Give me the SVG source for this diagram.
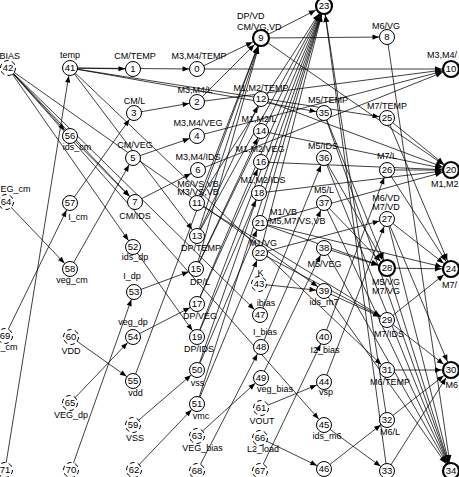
<svg xmlns="http://www.w3.org/2000/svg" width="459" height="477" viewBox="0 0 459 477">
<style>
.e line{stroke:#000;stroke-width:0.75;fill:none;marker-end:url(#a)}
.e line.b{marker-end:url(#b)}
.n circle{fill:#fff;stroke:#000;stroke-width:1}
.n.b circle{stroke-width:2.2}
.n.d circle{stroke-dasharray:4.5,3.3}
text{font-family:"Liberation Sans",Arial,sans-serif;font-size:9px;fill:#000;text-anchor:middle}
text.k{font-size:9.5px}
text.s{text-anchor:start}
text.r{text-anchor:end}
</style>
<defs>
<marker id="a" markerUnits="userSpaceOnUse" orient="auto" markerWidth="20" markerHeight="10" viewBox="-20 -5 20 10" refX="0" refY="0" overflow="visible"><path d="M-8,0L-14.5,-2.6L-14.5,2.6z" fill="#000"/></marker>
<marker id="b" markerUnits="userSpaceOnUse" orient="auto" markerWidth="20" markerHeight="10" viewBox="-20 -5 20 10" refX="0" refY="0" overflow="visible"><path d="M-9.5,0L-16,-2.8L-16,2.8z" fill="#000"/></marker>
</defs>
<rect width="459" height="477" fill="#fff"/>
<g id="connectors" class="e">
<line x1="5" y1="470" x2="70" y2="68"/>
<line x1="5" y1="336" x2="70" y2="203"/>
<line x1="6" y1="202" x2="70" y2="269"/>
<line x1="71" y1="337" x2="133" y2="381"/>
<line x1="70" y1="403" x2="133" y2="337"/>
<line x1="133" y1="425" x2="197" y2="370"/>
<line x1="134" y1="470" x2="197" y2="404"/>
<line x1="197" y1="436" x2="261" y2="378"/>
<line x1="197" y1="471" x2="261" y2="347"/>
<line x1="260" y1="471" x2="324" y2="337"/>
<line x1="71" y1="470" x2="134" y2="292"/>
<line x1="261" y1="408" x2="324" y2="382"/>
<line x1="260" y1="438" x2="324" y2="469"/>
<line x1="259" y1="284" x2="324" y2="291"/>
<line x1="8" y1="68" x2="70" y2="136"/>
<line x1="8" y1="68" x2="135" y2="202"/>
<line x1="70" y1="136" x2="135" y2="202"/>
<line x1="8" y1="68" x2="133" y2="247"/>
<line x1="8" y1="68" x2="260" y2="315"/>
<line x1="8" y1="68" x2="324" y2="425"/>
<line x1="8" y1="68" x2="324" y2="291"/>
<line x1="70" y1="68" x2="133" y2="69"/>
<line x1="70" y1="68" x2="197" y2="69"/>
<line x1="70" y1="68" x2="197" y2="236"/>
<line x1="70" y1="68" x2="324" y2="113"/>
<line x1="70" y1="68" x2="387" y2="118"/>
<line x1="70" y1="68" x2="387" y2="370"/>
<line x1="70" y1="203" x2="134" y2="113"/>
<line x1="70" y1="269" x2="133" y2="158"/>
<line x1="134" y1="292" x2="196" y2="269"/>
<line x1="133" y1="337" x2="197" y2="304"/>
<line x1="133" y1="247" x2="197" y2="337"/>
<line x1="260" y1="315" x2="324" y2="158"/>
<line x1="261" y1="347" x2="324" y2="203"/>
<line x1="261" y1="378" x2="324" y2="248"/>
<line x1="324" y1="337" x2="387" y2="170"/>
<line x1="324" y1="382" x2="387" y2="219"/>
<line x1="324" y1="291" x2="387" y2="320"/>
<line x1="324" y1="425" x2="387" y2="471"/>
<line x1="324" y1="469" x2="387" y2="420"/>
<line x1="134" y1="113" x2="197" y2="102"/>
<line x1="133" y1="158" x2="197" y2="136"/>
<line x1="135" y1="202" x2="198" y2="170"/>
<line x1="197" y1="236" x2="261" y2="99"/>
<line x1="196" y1="269" x2="261" y2="131"/>
<line x1="197" y1="304" x2="261" y2="162"/>
<line x1="197" y1="337" x2="259" y2="193"/>
<line class="b" x1="197" y1="69" x2="451" y2="69"/>
<line class="b" x1="197" y1="102" x2="451" y2="69"/>
<line class="b" x1="197" y1="136" x2="451" y2="69"/>
<line class="b" x1="198" y1="170" x2="451" y2="69"/>
<line class="b" x1="261" y1="99" x2="451" y2="170"/>
<line class="b" x1="261" y1="131" x2="451" y2="170"/>
<line class="b" x1="261" y1="162" x2="451" y2="170"/>
<line class="b" x1="259" y1="193" x2="451" y2="170"/>
<line class="b" x1="260" y1="223" x2="451" y2="170"/>
<line class="b" x1="387" y1="118" x2="451" y2="170"/>
<line class="b" x1="387" y1="170" x2="451" y2="170"/>
<line class="b" x1="324" y1="113" x2="387" y2="268"/>
<line class="b" x1="324" y1="158" x2="387" y2="268"/>
<line class="b" x1="324" y1="203" x2="387" y2="268"/>
<line class="b" x1="324" y1="248" x2="387" y2="268"/>
<line class="b" x1="260" y1="223" x2="387" y2="268"/>
<line class="b" x1="387" y1="118" x2="451" y2="269"/>
<line class="b" x1="387" y1="170" x2="451" y2="269"/>
<line class="b" x1="387" y1="219" x2="451" y2="269"/>
<line class="b" x1="387" y1="268" x2="451" y2="269"/>
<line class="b" x1="387" y1="320" x2="451" y2="269"/>
<line class="b" x1="260" y1="223" x2="451" y2="269"/>
<line class="b" x1="387" y1="370" x2="451" y2="370"/>
<line class="b" x1="387" y1="420" x2="451" y2="370"/>
<line class="b" x1="387" y1="471" x2="451" y2="370"/>
<line class="b" x1="387" y1="320" x2="451" y2="370"/>
<line class="b" x1="387" y1="219" x2="451" y2="370"/>
<line class="b" x1="197" y1="69" x2="261" y2="38"/>
<line class="b" x1="197" y1="102" x2="261" y2="38"/>
<line class="b" x1="133" y1="381" x2="261" y2="38"/>
<line class="b" x1="197" y1="203" x2="261" y2="38"/>
<line class="b" x1="197" y1="236" x2="261" y2="38"/>
<line class="b" x1="196" y1="269" x2="261" y2="38"/>
<line class="b" x1="261" y1="38" x2="324" y2="6"/>
<line class="b" x1="197" y1="203" x2="324" y2="6"/>
<line class="b" x1="197" y1="236" x2="324" y2="6"/>
<line class="b" x1="196" y1="269" x2="324" y2="6"/>
<line class="b" x1="197" y1="304" x2="324" y2="6"/>
<line class="b" x1="197" y1="337" x2="324" y2="6"/>
<line class="b" x1="260" y1="223" x2="324" y2="6"/>
<line class="b" x1="260" y1="253" x2="324" y2="6"/>
<line class="b" x1="197" y1="370" x2="324" y2="6"/>
<line class="b" x1="197" y1="404" x2="324" y2="6"/>
<line class="b" x1="387" y1="420" x2="324" y2="6"/>
<line class="b" x1="387" y1="471" x2="324" y2="6"/>
<line x1="261" y1="38" x2="387" y2="37"/>
<line class="b" x1="387" y1="37" x2="451" y2="471"/>
<line class="b" x1="261" y1="38" x2="451" y2="170"/>
<line x1="197" y1="370" x2="260" y2="223"/>
<line x1="197" y1="404" x2="260" y2="253"/>
<line x1="260" y1="253" x2="387" y2="219"/>
<line x1="260" y1="253" x2="387" y2="320"/>
<line x1="197" y1="203" x2="387" y2="320"/>
<line class="b" x1="324" y1="113" x2="451" y2="471"/>
<line class="b" x1="324" y1="158" x2="451" y2="471"/>
<line class="b" x1="324" y1="203" x2="451" y2="471"/>
<line class="b" x1="324" y1="248" x2="451" y2="471"/>
<line class="b" x1="387" y1="219" x2="451" y2="471"/>
<line class="b" x1="387" y1="268" x2="451" y2="471"/>
<line class="b" x1="324" y1="291" x2="451" y2="471"/>
</g>
<g id="n0" class="n"><circle cx="197" cy="69" r="7.5"/><text class="k" x="197" y="72.4">0</text><text x="199" y="59">M3,M4/TEMP</text></g>
<g id="n1" class="n"><circle cx="133" cy="69" r="7.5"/><text class="k" x="133" y="72.4">1</text><text x="135" y="59">CM/TEMP</text></g>
<g id="n2" class="n"><circle cx="197" cy="102" r="7.5"/><text class="k" x="197" y="105.4">2</text><text x="195" y="92.5">M3,M4/L</text></g>
<g id="n3" class="n"><circle cx="134" cy="113" r="7.5"/><text class="k" x="134" y="116.4">3</text><text x="134.5" y="104">CM/L</text></g>
<g id="n4" class="n"><circle cx="197" cy="136" r="7.5"/><text class="k" x="197" y="139.4">4</text><text x="198" y="126">M3,M4/VEG</text></g>
<g id="n5" class="n"><circle cx="133" cy="158" r="7.5"/><text class="k" x="133" y="161.4">5</text><text x="135" y="148">CM/VEG</text></g>
<g id="n6" class="n"><circle cx="198" cy="170" r="7.5"/><text class="k" x="198" y="173.4">6</text><text x="198" y="160">M3,M4/IDS</text></g>
<g id="n7" class="n"><circle cx="135" cy="202" r="7.5"/><text class="k" x="135" y="205.4">7</text><text x="135" y="219">CM/IDS</text></g>
<g id="n8" class="n"><circle cx="387" cy="37" r="7.5"/><text class="k" x="387" y="40.4">8</text><text x="386" y="29">M6/VG</text></g>
<g id="n9" class="n b"><circle cx="261" cy="38" r="8"/><text class="k" x="261" y="41.4">9</text><text class="s" x="237" y="18.5">DP/VD</text><text class="s" x="237" y="29.5">CM/VG,VD</text></g>
<g id="n10" class="n b"><circle cx="451" cy="69" r="8"/><text class="k" x="451" y="72.4">10</text><text class="s" x="427" y="58">M3,M4/</text></g>
<g id="n11" class="n"><circle cx="197" cy="203" r="7.5"/><text class="k" x="197" y="206.4">11</text><text x="198" y="186.5">M6/VS,VB</text><text x="198" y="195">M3/VS,VB</text></g>
<g id="n12" class="n"><circle cx="261" cy="99" r="7.5"/><text class="k" x="261" y="102.4">12</text><text x="261" y="91">M1,M2/TEMP</text></g>
<g id="n13" class="n"><circle cx="197" cy="236" r="7.5"/><text class="k" x="197" y="239.4">13</text><text x="201" y="250.5">DP/TEMP</text></g>
<g id="n14" class="n"><circle cx="261" cy="131" r="7.5"/><text class="k" x="261" y="134.4">14</text><text x="259" y="122">M1,M2/L</text></g>
<g id="n15" class="n"><circle cx="196" cy="269" r="7.5"/><text class="k" x="196" y="272.4">15</text><text x="200" y="285">DP/L</text></g>
<g id="n16" class="n"><circle cx="261" cy="162" r="7.5"/><text class="k" x="261" y="165.4">16</text><text x="260" y="152">M1,M2/VEG</text></g>
<g id="n17" class="n"><circle cx="197" cy="304" r="7.5"/><text class="k" x="197" y="307.4">17</text><text x="200" y="319">DP/VEG</text></g>
<g id="n18" class="n"><circle cx="259" cy="193" r="7.5"/><text class="k" x="259" y="196.4">18</text><text x="263" y="182.5">M1,M2/IDS</text></g>
<g id="n19" class="n"><circle cx="197" cy="337" r="7.5"/><text class="k" x="197" y="340.4">19</text><text x="199" y="352">DP/IDS</text></g>
<g id="n20" class="n b"><circle cx="451" cy="170" r="8"/><text class="k" x="451" y="173.4">20</text><text class="s" x="431" y="187">M1,M2</text></g>
<g id="n21" class="n"><circle cx="260" cy="223" r="7.5"/><text class="k" x="260" y="226.4">21</text><text class="s" x="270" y="215">M1/VB</text><text class="s" x="269" y="224">M5,M7/VS,VB</text></g>
<g id="n22" class="n"><circle cx="260" cy="253" r="7.5"/><text class="k" x="260" y="256.4">22</text><text x="263" y="246">M1/VG</text></g>
<g id="n23" class="n b"><circle cx="324" cy="6" r="8"/><text class="k" x="324" y="9.4">23</text></g>
<g id="n24" class="n b"><circle cx="451" cy="269" r="8"/><text class="k" x="451" y="272.4">24</text><text class="s" x="442" y="288">M7/</text></g>
<g id="n25" class="n"><circle cx="387" cy="118" r="7.5"/><text class="k" x="387" y="121.4">25</text><text x="387" y="109">M7/TEMP</text></g>
<g id="n26" class="n"><circle cx="387" cy="170" r="7.5"/><text class="k" x="387" y="173.4">26</text><text x="387" y="159">M7/L</text></g>
<g id="n27" class="n"><circle cx="387" cy="219" r="7.5"/><text class="k" x="387" y="222.4">27</text><text x="386" y="200.5">M6/VD</text><text x="386" y="210">M7/VD</text></g>
<g id="n28" class="n b"><circle cx="387" cy="268" r="8"/><text class="k" x="387" y="271.4">28</text><text x="386" y="285">M5/VG</text><text x="386" y="293.5">M7/VG</text></g>
<g id="n29" class="n"><circle cx="387" cy="320" r="7.5"/><text class="k" x="387" y="323.4">29</text><text x="389" y="336.5">M7/IDS</text></g>
<g id="n30" class="n b"><circle cx="451" cy="370" r="8"/><text class="k" x="451" y="373.4">30</text><text class="r" x="458" y="388">M6</text></g>
<g id="n31" class="n"><circle cx="387" cy="370" r="7.5"/><text class="k" x="387" y="373.4">31</text><text x="390" y="385">M6/TEMP</text></g>
<g id="n32" class="n"><circle cx="387" cy="420" r="7.5"/><text class="k" x="387" y="423.4">32</text><text x="390" y="435">M6/L</text></g>
<g id="n33" class="n"><circle cx="387" cy="471" r="7.5"/><text class="k" x="387" y="474.4">33</text></g>
<g id="n34" class="n b"><circle cx="451" cy="471" r="8"/><text class="k" x="451" y="474.4">34</text></g>
<g id="n35" class="n"><circle cx="324" cy="113" r="7.5"/><text class="k" x="324" y="116.4">35</text><text x="328" y="103">M5/TEMP</text></g>
<g id="n36" class="n"><circle cx="324" cy="158" r="7.5"/><text class="k" x="324" y="161.4">36</text><text x="323" y="149">M5/IDS</text></g>
<g id="n37" class="n"><circle cx="324" cy="203" r="7.5"/><text class="k" x="324" y="206.4">37</text><text x="324" y="193">M5/L</text></g>
<g id="n38" class="n"><circle cx="324" cy="248" r="7.5"/><text class="k" x="324" y="251.4">38</text><text x="324.5" y="267">M5/VEG</text></g>
<g id="n39" class="n"><circle cx="324" cy="291" r="7.5"/><text class="k" x="324" y="294.4">39</text><text x="324" y="304.5">ids_m7</text></g>
<g id="n40" class="n"><circle cx="324" cy="337" r="7.5"/><text class="k" x="324" y="340.4">40</text><text x="325" y="353">I2_bias</text></g>
<g id="n41" class="n"><circle cx="70" cy="68" r="7.5"/><text class="k" x="70" y="71.4">41</text><text x="70" y="58">temp</text></g>
<g id="n42" class="n d"><circle cx="8" cy="68" r="7.5"/><text class="k" x="8" y="71.4">42</text><text class="r" x="20" y="59">BIAS</text></g>
<g id="n43" class="n d"><circle cx="259" cy="284" r="7.5"/><text class="k" x="259" y="287.4">43</text><text x="260.5" y="276">K</text></g>
<g id="n44" class="n"><circle cx="324" cy="382" r="7.5"/><text class="k" x="324" y="385.4">44</text><text x="326" y="395">vsp</text></g>
<g id="n45" class="n"><circle cx="324" cy="425" r="7.5"/><text class="k" x="324" y="428.4">45</text><text x="327" y="439">ids_m6</text></g>
<g id="n46" class="n"><circle cx="324" cy="469" r="7.5"/><text class="k" x="324" y="472.4">46</text></g>
<g id="n47" class="n"><circle cx="260" cy="315" r="7.5"/><text class="k" x="260" y="318.4">47</text><text x="266" y="306">ibias</text></g>
<g id="n48" class="n"><circle cx="261" cy="347" r="7.5"/><text class="k" x="261" y="350.4">48</text><text x="265" y="335">I_bias</text></g>
<g id="n49" class="n"><circle cx="261" cy="378" r="7.5"/><text class="k" x="261" y="381.4">49</text><text x="275" y="391.5">veg_bias</text></g>
<g id="n50" class="n"><circle cx="197" cy="370" r="7.5"/><text class="k" x="197" y="373.4">50</text><text x="197.5" y="386">vss</text></g>
<g id="n51" class="n"><circle cx="197" cy="404" r="7.5"/><text class="k" x="197" y="407.4">51</text><text x="201" y="419">vmc</text></g>
<g id="n52" class="n"><circle cx="133" cy="247" r="7.5"/><text class="k" x="133" y="250.4">52</text><text x="135" y="259.5">ids_dp</text></g>
<g id="n53" class="n"><circle cx="134" cy="292" r="7.5"/><text class="k" x="134" y="295.4">53</text><text x="132" y="279">I_dp</text></g>
<g id="n54" class="n"><circle cx="133" cy="337" r="7.5"/><text class="k" x="133" y="340.4">54</text><text x="133" y="325">veg_dp</text></g>
<g id="n55" class="n"><circle cx="133" cy="381" r="7.5"/><text class="k" x="133" y="384.4">55</text><text x="135.5" y="396">vdd</text></g>
<g id="n56" class="n"><circle cx="70" cy="136" r="7.5"/><text class="k" x="70" y="139.4">56</text><text x="77" y="150">ids_cm</text></g>
<g id="n57" class="n"><circle cx="70" cy="203" r="7.5"/><text class="k" x="70" y="206.4">57</text><text x="78" y="220">I_cm</text></g>
<g id="n58" class="n"><circle cx="70" cy="269" r="7.5"/><text class="k" x="70" y="272.4">58</text><text x="72" y="283">veg_cm</text></g>
<g id="n59" class="n d"><circle cx="133" cy="425" r="7.5"/><text class="k" x="133" y="428.4">59</text><text x="135" y="440.5">VSS</text></g>
<g id="n60" class="n d"><circle cx="71" cy="337" r="7.5"/><text class="k" x="71" y="340.4">60</text><text x="71" y="354">VDD</text></g>
<g id="n61" class="n d"><circle cx="261" cy="408" r="7.5"/><text class="k" x="261" y="411.4">61</text><text x="262" y="424">VOUT</text></g>
<g id="n62" class="n d"><circle cx="134" cy="470" r="7.5"/><text class="k" x="134" y="473.4">62</text></g>
<g id="n63" class="n d"><circle cx="197" cy="436" r="7.5"/><text class="k" x="197" y="439.4">63</text><text x="202.5" y="450.5">VEG_bias</text></g>
<g id="n64" class="n d"><circle cx="6" cy="202" r="7.5"/><text class="s" x="0.5" y="192">EG_cm</text><text class="k" x="6" y="205.4">64</text></g>
<g id="n65" class="n d"><circle cx="70" cy="403" r="7.5"/><text class="k" x="70" y="406.4">65</text><text x="71" y="417.5">VEG_dp</text></g>
<g id="n66" class="n d"><circle cx="260" cy="438" r="7.5"/><text class="k" x="260" y="441.4">66</text><text x="263" y="452">L2_load</text></g>
<g id="n67" class="n d"><circle cx="260" cy="471" r="7.5"/><text class="k" x="260" y="474.4">67</text></g>
<g id="n68" class="n d"><circle cx="197" cy="471" r="7.5"/><text class="k" x="197" y="474.4">68</text></g>
<g id="n69" class="n d"><circle cx="5" cy="336" r="7.5"/><text class="k" x="5" y="339.4">69</text><text class="s" x="0.5" y="350">_cm</text></g>
<g id="n70" class="n d"><circle cx="71" cy="470" r="7.5"/><text class="k" x="71" y="473.4">70</text></g>
<g id="n71" class="n d"><circle cx="5" cy="470" r="7.5"/><text class="k" x="5" y="473.4">71</text></g>
</svg>
